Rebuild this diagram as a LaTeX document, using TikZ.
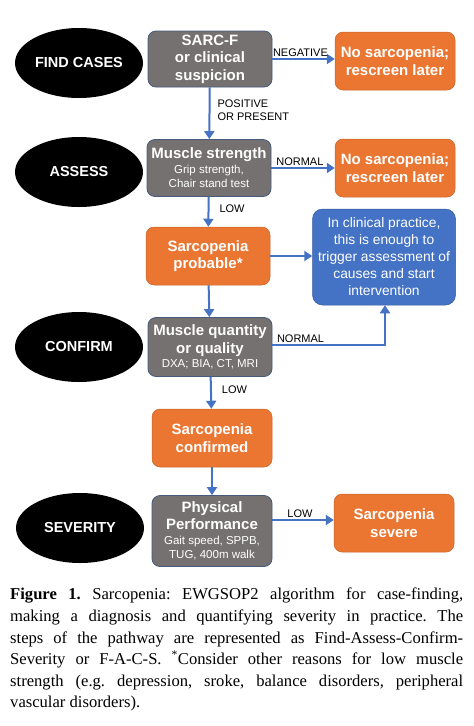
\documentclass[tikz,border=0pt]{standalone}
\usepackage{fontspec}
\setmainfont{Liberation Serif}
\setsansfont{Liberation Sans}
\usetikzlibrary{arrows.meta, positioning, shapes.geometric}
\definecolor{mygray}{RGB}{117, 113, 112}
\definecolor{myedge}{RGB}{70, 90, 125}
\definecolor{myorange}{RGB}{234, 118, 50}
\definecolor{myblue}{RGB}{68, 114, 196}

\begin{document}
\begin{tikzpicture}[x=1pt, y=-1pt,
    stage/.style={ellipse, fill=black, text=white, inner sep=0pt, minimum width=128pt, minimum height=70pt, font=\sffamily\bfseries\fontsize{14.5}{17}\selectfont},
    testbox/.style={rectangle, rounded corners=8pt, fill=mygray, draw=myedge, line width=0.8pt, text=white, align=center, inner sep=1pt, minimum width=124pt, font=\sffamily\bfseries\fontsize{15}{17.5}\selectfont},
    outbox/.style={rectangle, rounded corners=8pt, fill=myorange, draw=myorange!85!black, line width=0.5pt, text=white, align=center, inner sep=1pt, minimum width=120pt, minimum height=58pt, font=\sffamily\bfseries\fontsize{15}{17.5}\selectfont},
    infobox/.style={rectangle, rounded corners=10pt, fill=myblue, draw=myblue!80!black, line width=0.5pt, text=white, align=center, inner sep=1pt, minimum width=143pt, minimum height=96pt, font=\sffamily\fontsize{13.8}{17}\selectfont},
    flow/.style={-{Triangle[length=8pt, width=10pt]}, myblue, line width=2pt},
    lbl/.style={text=black, font=\sffamily\fontsize{11}{13}\selectfont, align=left, inner sep=1pt}
]
    \useasboundingbox (0, 0) rectangle (474, 726);

    % Stufen links
    \node[stage] (find) at (79, 63) {FIND CASES};
    \node[stage] (assess) at (79, 172) {ASSESS};
    \node[stage] (confirm) at (79, 347) {CONFIRM};
    \node[stage] (severity) at (80, 528) {SEVERITY};

    % mittlere Spalte
    \node[testbox, minimum height=56pt] (sarcf) at (210, 59) {SARC-F\\or clinical\\suspicion};
    \node[testbox, minimum height=57pt] (strength) at (209, 168) {Muscle strength\\[-3pt]{\mdseries\fontsize{11.5}{14}\selectfont Grip strength,}\\[-3pt]{\mdseries\fontsize{11.5}{14}\selectfont Chair stand test}};
    \node[outbox, minimum width=124pt] (probable) at (208, 256) {Sarcopenia\\probable*};
    \node[testbox, minimum height=59pt] (quantity) at (210, 347) {Muscle quantity\\or quality\\[-3pt]{\mdseries\fontsize{11.5}{14}\selectfont DXA; BIA, CT, MRI}};
    \node[outbox] (confirmed) at (212, 438) {Sarcopenia\\confirmed};
    \node[testbox, minimum width=120pt, minimum height=71pt] (physical) at (212, 531) {Physical\\Performance\\[-3pt]{\mdseries\fontsize{11.5}{14}\selectfont Gait speed, SPPB,}\\[-3pt]{\mdseries\fontsize{11.5}{14}\selectfont TUG, 400m walk}};

    % rechte Spalte
    \node[outbox] (none1) at (395, 61) {No sarcopenia;\\rescreen later};
    \node[outbox] (none2) at (395, 168) {No sarcopenia;\\rescreen later};
    \node[infobox] (practice) at (384, 257) {In clinical practice,\\this is enough to\\trigger assessment of\\causes and start\\intervention};
    \node[outbox] (severe) at (394, 523) {Sarcopenia\\severe};

    % Hilfspunkte fuer die Pfeilhoehen
    \coordinate (h1) at (0, 59);
    \coordinate (h2) at (0, 345);
    \coordinate (h3) at (0, 520);
    \coordinate (bend) at (385, 345);

    % Pfeile
    \draw[flow] (sarcf.east |- h1) -- node[lbl, above, pos=0.45] (neg) {NEGATIVE} (none1.west |- h1);
    \draw[flow] (sarcf) -- node[lbl, right=6pt, pos=0.45] (pos) {POSITIVE\\OR PRESENT} (strength);
    \draw[flow] (strength) -- node[lbl, above, pos=0.45] (norm1) {NORMAL} (none2);
    \draw[flow] (strength) -- node[lbl, right=9pt, pos=0.4] (low1) {LOW} (probable);
    \draw[flow] (probable) -- (practice.west |- probable);
    \draw[flow] (probable) -- (quantity);
    \draw[flow] (quantity.east |- h2) -- node[lbl, above, pos=0.25] (norm2) {NORMAL} (bend) -- (bend |- practice.south);
    \draw[flow] (quantity) -- node[lbl, right=9pt, pos=0.4] (low2) {LOW} (confirmed);
    \draw[flow] (confirmed) -- (physical);
    \draw[flow] (physical.east |- h3) -- node[lbl, above, pos=0.45] (low3) {LOW} (severe.west |- h3);

    % Bildunterschrift
    \node[anchor=north west, inner sep=0pt, text width=453pt, align=justify, font=\fontsize{16.6}{21.6}\selectfont] (caption) at (10, 588)
        {\frenchspacing\hyphenpenalty=10000\emergencystretch=2em
        \textbf{Figure 1.} Sarcopenia: EWGSOP2 algorithm for case-finding,\linebreak making a diagnosis and quantifying severity in practice. The\linebreak steps of the pathway are represented as Find-Assess-Confirm-\linebreak Severity or F-A-C-S. \textsuperscript{*}Consider other reasons for low muscle\linebreak strength (e.g. depression, sroke, balance disorders, peripheral\linebreak vascular disorders).};
\end{tikzpicture}
\end{document}
